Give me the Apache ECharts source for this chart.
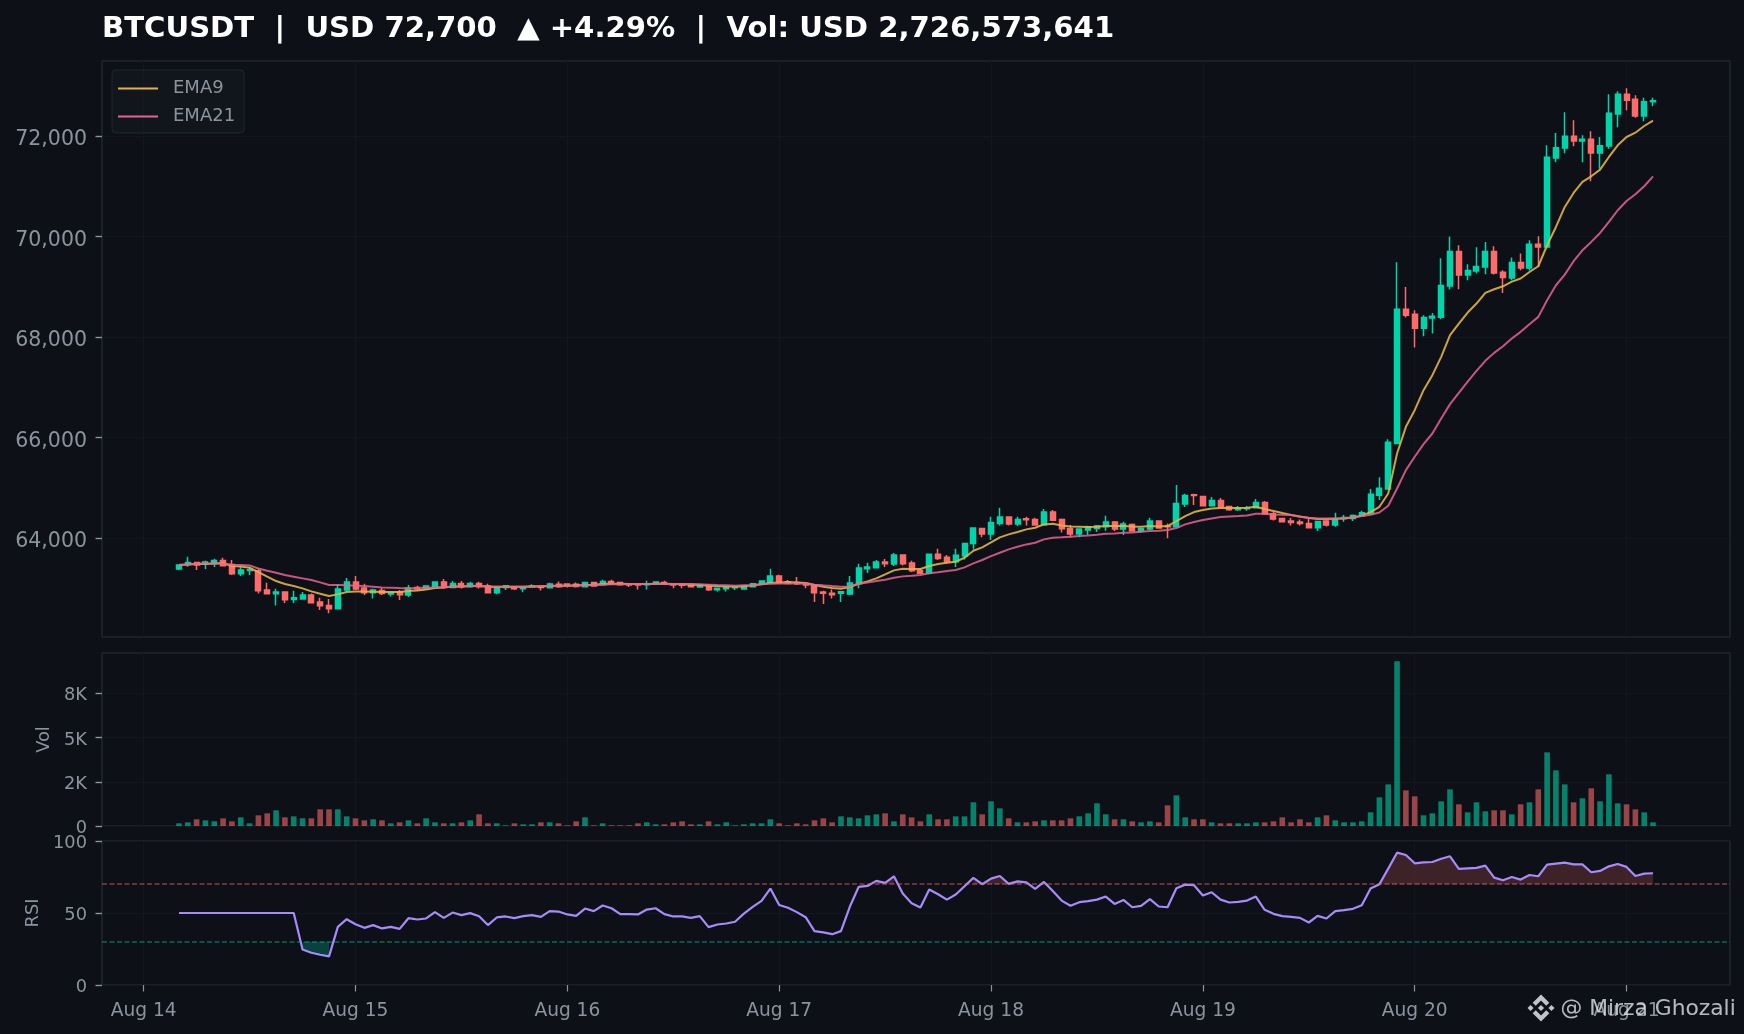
<!DOCTYPE html>
<html><head><meta charset="utf-8">
<style>html,body{margin:0;padding:0;background:#0d1117}#c{width:1744px;height:1034px}</style>
<script src="https://cdn.jsdelivr.net/npm/echarts@6/dist/echarts.min.js"></script>
</head><body><div id="c"></div>
<script>
const titleText = 'BTCUSDT  |  USD 72,700  ▲ +4.29%  |  Vol: USD 2,726,573,641';
const watermarkText = '@ Mirza Ghozali';
const firstHour = 4; // first candle: Aug 14 04:00, hours counted from Aug 14 00:00
const dayHours = [0,24,48,72,96,120,144,168];
const dayLabels = ['Aug 14','Aug 15','Aug 16','Aug 17','Aug 18','Aug 19','Aug 20','Aug 21'];
const priceTicks = [64000,66000,68000,70000,72000];
const volTicks = [0,2500,5000,7500];
const volLabels = ['0','2K','5K','8K'];
const rsiTicks = [0,50,100];

const open = [
63383,63476,63516,63483,63496,63555,63476,63290,63357,63350,
62966,62893,62926,62780,62787,62866,62727,62661,62595,62966,
63125,63005,62913,62959,62886,62926,62866,63019,62992,63012,
63125,63019,63098,63032,63098,63052,62913,63019,63032,62992,
63026,63045,63012,63079,63085,63079,63032,63118,63072,63138,
63118,63092,63085,63072,63079,63118,63085,63085,63079,63026,
63059,62973,62992,63012,62986,63032,63079,63112,63244,63132,
63118,63098,63072,62926,62900,62900,62886,63092,63390,63410,
63523,63483,63662,63503,63350,63300,63676,63616,63530,63642,
63894,64192,64080,64292,64418,64279,64385,64371,64265,64517,
64371,64192,64080,64159,64192,64226,64318,64179,64272,64140,
64179,64338,64240,64226,64676,64862,64829,64643,64749,64630,
64564,64584,64604,64709,64484,64391,64338,64318,64292,64206,
64338,64259,64391,64391,64443,64490,64854,64974,65882,68552,
68453,68174,68380,68393,69016,69699,69235,69314,69394,69699,
69288,69175,69480,69374,69845,69791,71561,71760,71992,71899,
71932,71660,71799,72436,72827,72727,72396,72680];
const close = [
63463,63516,63463,63522,63555,63449,63290,63363,63370,62952,
62893,62926,62774,62813,62866,62714,62654,62595,62986,63125,
62986,62913,62966,62899,62919,62873,63005,62986,63045,63125,
63019,63098,63032,63098,63032,62913,63012,63052,62992,63032,
63052,63019,63085,63032,63045,63039,63118,63045,63138,63085,
63072,63065,63065,63092,63125,63079,63065,63059,63032,63065,
62973,63000,63026,63032,63052,63092,63145,63244,63112,63098,
63092,63065,62913,62900,62873,62933,63105,63403,63423,63523,
63489,63662,63489,63350,63300,63680,63596,63530,63656,63894,
64199,64080,64312,64418,64279,64371,64365,64259,64517,64352,
64186,64080,64179,64226,64239,64318,64179,64279,64140,64192,
64338,64199,64226,64690,64849,64849,64643,64749,64623,64564,
64604,64604,64709,64477,64378,64325,64312,64292,64206,64332,
64259,64371,64411,64451,64503,64874,64993,65908,68552,68433,
68174,68386,68413,69023,69699,69235,69321,69400,69699,69275,
69182,69480,69374,69845,69791,71574,71766,71992,71899,71932,
71660,71806,72449,72827,72707,72396,72681,72700];
const low = [
63363,63430,63363,63383,63423,63436,63264,63244,63264,62899,
62880,62661,62707,62707,62780,62707,62568,62502,62588,62939,
62966,62866,62800,62866,62840,62767,62827,62959,62979,63005,
62992,63012,62999,63012,62999,62899,62880,62966,62966,62920,
63012,62959,63000,63012,63019,63019,63019,63032,63065,63065,
63065,63026,62979,62979,63065,63065,63000,63000,63026,63019,
62946,62939,62939,62966,62979,63026,63065,63098,63105,63085,
63065,63000,62727,62688,62800,62727,62867,63000,63304,63403,
63423,63443,63456,63324,63280,63280,63563,63497,63424,63576,
63775,64014,63961,64252,64252,64239,64252,64252,64252,64338,
64113,64014,64014,64060,64120,64146,64140,64060,64126,64106,
64159,64192,63994,64212,64617,64656,64636,64636,64610,64544,
64544,64544,64590,64464,64351,64312,64252,64252,64192,64140,
64232,64226,64325,64338,64423,64457,64755,64967,65868,68387,
67790,68015,68068,68353,68943,68950,69129,69261,69248,69241,
68877,69129,69328,69328,69394,69758,71475,71654,71793,71475,
71097,71349,71746,72171,72509,72363,72290,72588];
const high = [
63463,63628,63529,63549,63589,63609,63562,63430,63430,63396,
63112,62992,62926,62952,62926,62899,62813,62787,63085,63204,
63244,63092,62992,63005,62933,62966,63065,63052,63052,63131,
63184,63145,63145,63131,63131,63092,63032,63052,63045,63040,
63079,63052,63112,63138,63092,63118,63132,63132,63171,63171,
63125,63098,63098,63152,63132,63152,63098,63098,63092,63092,
63079,63012,63032,63065,63059,63098,63152,63390,63271,63165,
63224,63112,63085,62953,62979,62946,63244,63489,63509,63562,
63582,63702,63668,63549,63400,63690,63788,63662,63788,63894,
64200,64200,64424,64603,64425,64424,64424,64405,64577,64557,
64391,64259,64180,64246,64259,64444,64338,64325,64292,64206,
64405,64351,64292,65054,64882,64882,64835,64815,64795,64636,
64636,64636,64776,64736,64524,64395,64398,64371,64385,64338,
64358,64504,64457,64471,64543,64974,65212,65968,69487,68996,
68532,68433,68479,69566,70000,69825,69447,69785,69891,69805,
69327,69579,69659,69924,70004,71813,72058,72469,72310,72012,
72091,71978,72827,72886,72946,72807,72760,72760];
const volume = [
151,207,377,320,264,433,264,490,151,603,
716,885,490,546,433,433,942,942,942,546,
433,320,377,320,151,207,320,151,433,207,
151,151,207,320,659,151,151,38,151,94,
94,207,207,151,38,264,490,38,151,38,
38,38,151,207,94,94,207,264,94,94,
264,94,207,38,94,151,151,377,151,38,
151,94,320,433,207,546,490,433,603,659,
716,264,659,490,264,659,377,377,546,546,
1338,659,1394,999,433,207,207,264,320,320,
320,433,546,716,1281,659,377,377,264,207,
264,207,1168,1733,490,377,377,207,151,151,
151,151,207,207,264,490,207,377,207,490,
603,320,207,207,264,772,1620,2355,9307,2016,
1677,603,716,1394,2072,1225,772,1338,829,885,
885,659,1225,1338,2072,4164,3146,2355,1338,1564,
2129,1394,2920,1281,1225,942,772,207];
const ema9 = [
63463,63476,63483,63483,63496,63502,63443,63436,63410,63324,
63231,63145,63085,63045,62999,62939,62893,62846,62880,62926,
62939,62939,62933,62926,62926,62926,62946,62959,62979,63005,
63019,63039,63039,63045,63052,63032,63025,63032,63032,63032,
63039,63039,63045,63052,63052,63059,63065,63072,63085,63092,
63092,63085,63085,63085,63092,63092,63085,63079,63072,63065,
63052,63045,63039,63039,63039,63059,63079,63112,63118,63125,
63118,63105,63065,63032,63006,62993,63026,63092,63138,63198,
63277,63357,63390,63383,63384,63444,63483,63510,63530,63609,
63748,63815,63914,64014,64073,64120,64173,64206,64272,64285,
64252,64232,64226,64219,64226,64239,64239,64239,64232,64226,
64239,64232,64239,64338,64438,64517,64557,64590,64597,64597,
64597,64603,64623,64577,64537,64497,64458,64431,64398,64378,
64378,64385,64391,64411,64444,64517,64622,64888,65683,66213,
66544,66942,67240,67605,68035,68267,68486,68665,68877,68950,
69009,69102,69162,69294,69407,69825,70189,70587,70865,71084,
71196,71329,71581,71813,71978,72064,72197,72303];
const ema21 = [
63469,63476,63489,63496,63496,63489,63469,63463,63456,63396,
63350,63310,63264,63231,63198,63165,63118,63065,63065,63059,
63052,63045,63032,63019,63012,63005,62999,63005,63012,63019,
63025,63032,63039,63045,63045,63039,63039,63032,63032,63032,
63039,63045,63045,63052,63052,63052,63059,63065,63072,63079,
63079,63085,63085,63085,63085,63085,63085,63085,63085,63079,
63072,63065,63059,63052,63059,63065,63079,63092,63098,63098,
63098,63092,63072,63059,63045,63032,63039,63092,63118,63145,
63171,63211,63238,63251,63265,63298,63318,63344,63364,63417,
63497,63563,63642,63709,63775,63828,63874,63908,63974,64007,
64014,64027,64040,64053,64067,64086,64093,64106,64113,64126,
64139,64146,64159,64199,64272,64318,64358,64391,64418,64431,
64438,64451,64484,64484,64471,64464,64458,64424,64405,64391,
64391,64391,64398,64411,64438,64464,64510,64642,64987,65352,
65617,65868,66080,66379,66664,66889,67114,67326,67525,67684,
67817,67969,68102,68254,68400,68731,69029,69241,69507,69725,
69891,70070,70289,70521,70706,70839,70998,71196];
const rsi = [
50,50,50,50,50,50,50,50,50,50,
50,50,50,50,24.7,22.4,21,19.9,40.4,45.7,
42.2,39.7,41.6,39.3,40.4,39,46.4,45.5,46.2,50.6,
46.6,50.3,48.5,49.9,47.8,41.6,46.9,47.6,46.4,47.8,
48.5,47.3,51.3,51,49,48,53.1,51.3,55.2,53.3,
49.2,49.2,49,52.4,53.3,49.2,47.6,47.6,46.6,47.8,
40.2,42,42.7,43.9,49.6,54.3,58.4,67,55.6,53.6,
50.6,47.1,37.4,36.5,35.3,37.4,54.3,68.1,68.8,72.3,
70.9,75.5,63.5,56.8,53.8,66.3,63,59.3,62.8,68.6,
74.4,70,73.9,75.7,70.2,72,71.3,66.7,71.6,65.3,
58.6,55,57.5,58.2,59.3,61.4,56.3,59.1,54,55,
59.6,54.5,54,67.2,69.7,69.3,62.1,64.4,59.3,57.3,
57.7,58.6,61.4,52.2,49.4,47.8,47.3,46.6,43.4,48,
46.2,51.3,52,52.9,55.4,67,70,80.8,91.9,90.3,
84.5,85.2,85.4,87.7,89.4,80.6,81,81.3,82.9,74.6,
72.7,75,73.2,76.4,75.5,83.6,84.3,85,83.8,83.8,
78.3,79.2,82.4,84,82,75.7,77.3,77.6];

const UP='#00d4aa', DOWN='#ff6b6b', TXT='#8b949e', SPINE='#21262d', BG='#0d1117', FAINT='#12161d';
const FONT='"DejaVu Sans"';
const hours = open.map((_,i)=>firstHour+i);
const isUp = i => close[i]>=open[i];
const pair = arr => arr.map((v,i)=>[hours[i],v]);

const logoShapes = [
 [[38.73,53.2],[63.3,28.63],[87.89,53.22],[102.19,38.92],[63.3,0],[24.43,38.87]],
 [[0,63.31],[14.3,49.01],[28.6,63.31],[14.3,77.61]],
 [[38.73,73.41],[63.3,98],[87.89,73.41],[102.2,87.7],[63.3,126.61],[24.43,87.73]],
 [[97.99,63.31],[112.29,49.01],[126.59,63.31],[112.29,77.61]],
 [[77.83,63.3],[63.3,48.77],[48.77,63.29],[63.3,77.83]]
];

const xMin=-4.72, xMax=179.72;
const grids=[
 {left:102,width:1628,top:61,height:576},
 {left:102,width:1628,top:653,height:173},
 {left:102,width:1628,top:841,height:144}
].map(g=>Object.assign(g,{show:true,backgroundColor:BG,borderColor:SPINE,borderWidth:1.5}));

const xAxisBase=i=>({
 type:'value',gridIndex:i,min:xMin,max:xMax,
 axisLine:{show:false,onZero:false},
 axisTick:{show:i===2,customValues:dayHours,length:6.5,lineStyle:{color:TXT,width:1.2}},
 axisLabel:{show:i===2,customValues:dayHours,margin:15,color:TXT,fontSize:18.6,fontFamily:FONT,padding:[2,0,0,0],
   formatter:v=>dayLabels[dayHours.indexOf(v)]},
 splitLine:{show:true,lineStyle:{color:FAINT,width:1}}
});
const yAxisBase=(i,min,max,ticks,fmt,size,name,gap,lh)=>({
 type:'value',gridIndex:i,min,max,scale:true,
 name,nameLocation:'middle',nameGap:gap,nameRotate:90,
 nameTextStyle:{color:TXT,fontSize:17.8,fontFamily:FONT},
 axisLine:{show:false,onZero:false},
 axisTick:{show:true,customValues:ticks,length:6.5,lineStyle:{color:TXT,width:1.4}},
 axisLabel:{customValues:ticks,margin:15,color:TXT,fontSize:size,fontFamily:FONT,formatter:fmt,
   verticalAlign:'top',lineHeight:lh,showMinLabel:true,showMaxLabel:true},
 splitLine:{show:true,lineStyle:{color:FAINT,width:1}}
});

const chart=echarts.init(document.getElementById('c'),null,{renderer:'canvas',width:1744,height:1034});
chart.setOption({
 animation:false,backgroundColor:BG,
 title:{text:titleText,left:102,top:15,padding:0,
   textStyle:{color:'#ffffff',fontSize:29.15,fontWeight:'bold',fontFamily:FONT}},
 legend:{data:['EMA9','EMA21'],icon:'rect',orient:'vertical',left:112,top:70,padding:[9.5,9,7.5,6],
   itemWidth:40,itemHeight:2,itemGap:10,
   backgroundColor:'rgba(22,27,34,0.55)',borderColor:SPINE,borderWidth:1,borderRadius:4,
   textStyle:{color:TXT,fontSize:18,fontFamily:FONT,padding:[2,0,0,10]}},
 grid:grids,
 xAxis:[xAxisBase(0),xAxisBase(1),xAxisBase(2)],
 yAxis:[
  yAxisBase(0,62032,73490,priceTicks,v=>v.toLocaleString('en-US'),20.5,'',0,8),
  yAxisBase(1,0,9780,volTicks,v=>volLabels[volTicks.indexOf(v)],17.8,'Vol',45,5),
  yAxisBase(2,0,100,rsiTicks,v=>String(v),17.8,'RSI',55,5)
 ],
 series:[
  {type:'candlestick',name:'Price',xAxisIndex:0,yAxisIndex:0,barWidth:5.5,z:2,
   encode:{x:0,y:[1,2,3,4]},
   data:hours.map((h,i)=>[h,open[i],close[i],low[i],high[i]]),
   itemStyle:{color:UP,color0:DOWN,borderColor:UP,borderColor0:DOWN,borderWidth:1.5}},
  {type:'line',name:'EMA9',xAxisIndex:0,yAxisIndex:0,z:3,symbol:'none',data:pair(ema9),
   itemStyle:{color:'#e3b341'},lineStyle:{color:'#e3b341',width:2,opacity:0.9}},
  {type:'line',name:'EMA21',xAxisIndex:0,yAxisIndex:0,z:4,symbol:'none',data:pair(ema21),
   itemStyle:{color:'#e8638f'},lineStyle:{color:'#e8638f',width:2,opacity:0.85}},
  {type:'bar',name:'Volume',xAxisIndex:1,yAxisIndex:1,barWidth:5.6,
   data:hours.map((h,i)=>({value:[h,volume[i]],itemStyle:{color:isUp(i)?UP:DOWN,opacity:0.58}}))},
  {type:'line',name:'Overbought',xAxisIndex:2,yAxisIndex:2,symbol:'none',z:2,connectNulls:false,
   data:hours.map((h,i)=>[h,rsi[i]>=70?rsi[i]:null]),lineStyle:{width:0},
   areaStyle:{origin:70,color:'#ff6b6b',opacity:0.2}},
  {type:'line',name:'Oversold',xAxisIndex:2,yAxisIndex:2,symbol:'none',z:2,connectNulls:false,
   data:hours.map((h,i)=>[h,rsi[i]<=30?rsi[i]:null]),lineStyle:{width:0},
   areaStyle:{origin:30,color:'#00d4aa',opacity:0.25}},
  {type:'line',name:'RSI',xAxisIndex:2,yAxisIndex:2,symbol:'none',z:4,data:pair(rsi),
   lineStyle:{color:'#a78bfa',width:2.2},
   markLine:{silent:true,symbol:'none',label:{show:false},animation:false,
    data:[
     {yAxis:70,lineStyle:{color:'#ff6b6b',opacity:0.5,type:[5,2.5],width:1.5}},
     {yAxis:30,lineStyle:{color:'#00d4aa',opacity:0.45,type:[5,2.5],width:1.5}}
    ]}}
 ],
 graphic:[
  {type:'group',x:1527.5,y:994.5,scaleX:27/126.6,scaleY:27/126.6,z:100,
   children:logoShapes.map(pts=>({type:'polygon',shape:{points:pts},style:{fill:'rgba(225,228,232,0.85)'}}))},
  {type:'text',z:100,x:1560.5,y:998.5,style:{text:watermarkText,fill:'rgba(225,228,232,0.8)',font:'21.8px "DejaVu Sans"'}}
 ]
});
</script></body></html>
